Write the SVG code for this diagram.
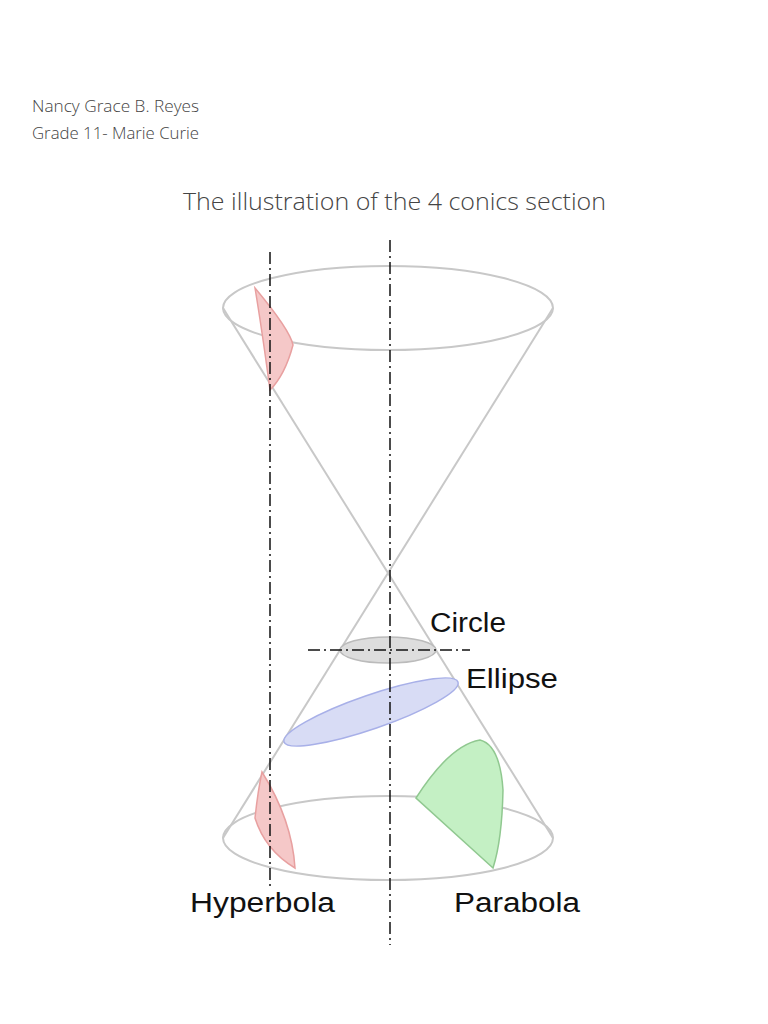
<svg xmlns="http://www.w3.org/2000/svg" width="768" height="1024" viewBox="0 0 768 1024">
<style>
.hd{font-family:"Open Sans","Liberation Sans",sans-serif;fill:#444;font-weight:300}
.lb{font-family:"Liberation Sans",Arial,sans-serif;font-size:27px;fill:#111}
.cone{fill:none;stroke:#c8c8c8;stroke-width:2}
.dd{stroke:#111;stroke-width:1.5;stroke-dasharray:12,4,2,4;fill:none}
</style>
<rect width="768" height="1024" fill="#fff"/>
<text class="hd" x="32" y="112" font-size="16" textLength="167" lengthAdjust="spacingAndGlyphs">Nancy Grace B. Reyes</text>
<text class="hd" x="32" y="139" font-size="16" textLength="167" lengthAdjust="spacingAndGlyphs">Grade 11- Marie Curie</text>
<text class="hd" x="183" y="210" font-size="24" textLength="423" lengthAdjust="spacingAndGlyphs">The illustration of the 4 conics section</text>
<g id="cone">
<ellipse class="cone" cx="388" cy="308" rx="165" ry="42"/>
<ellipse class="cone" cx="388" cy="838" rx="165" ry="42"/>
<line class="cone" x1="223" y1="308" x2="553" y2="838"/>
<line class="cone" x1="553" y1="308" x2="223" y2="838"/>
</g>
<g id="hyperbola-top"><path d="M255,288 Q290,330 293,345 Q285,375 270,390 Q262,330 255,288Z" fill="#f5c8c8" stroke="#e8a0a0" stroke-width="1.5"/></g>
<g id="hyperbola-bottom"><path d="M262,772 Q292,820 295,868 Q265,850 255,818 Q258,790 262,772Z" fill="#f5c8c8" stroke="#e8a0a0" stroke-width="1.5"/></g>
<g id="circle"><ellipse cx="388" cy="650" rx="48" ry="13" fill="#ddd" stroke="#bbb" stroke-width="1.5"/></g>
<g id="ellipse"><ellipse cx="371" cy="712" rx="92" ry="17" transform="rotate(-19 371 712)" fill="#d8dcf5" stroke="#a8b0e8" stroke-width="1.5"/></g>
<g id="parabola"><path d="M416,798 Q450,745 480,740 Q500,745 503,790 Q502,840 493,868 Z" fill="#c4f0c4" stroke="#90c890" stroke-width="1.5"/></g>
<g id="connectors">
<line class="dd" x1="390" y1="240" x2="390" y2="945"/>
<line class="dd" x1="270" y1="252" x2="270" y2="890"/>
<line class="dd" x1="308" y1="650" x2="470" y2="650"/>
</g>
<text class="lb" x="430" y="632" textLength="76" lengthAdjust="spacingAndGlyphs">Circle</text>
<text class="lb" x="466" y="688" textLength="92" lengthAdjust="spacingAndGlyphs">Ellipse</text>
<text class="lb" x="190" y="912" textLength="145" lengthAdjust="spacingAndGlyphs">Hyperbola</text>
<text class="lb" x="454" y="912" textLength="126" lengthAdjust="spacingAndGlyphs">Parabola</text>
</svg>
